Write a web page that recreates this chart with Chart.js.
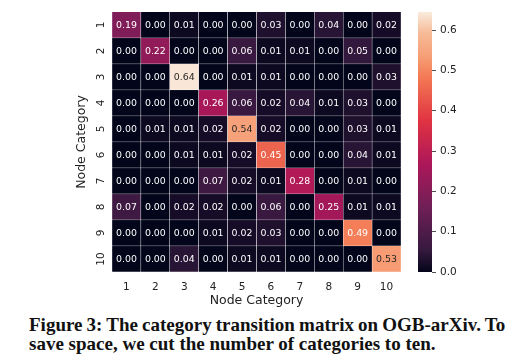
<!DOCTYPE html>
<html>
<head>
<meta charset="utf-8">
<script src="https://cdn.jsdelivr.net/npm/chart.js@4.4.1/dist/chart.umd.min.js"></script>
<style>
  body { margin: 0; background: #fff; width: 527px; height: 360px; position: relative; overflow: hidden; }
  #heat { position: absolute; left: 0; top: 0; }
  #bar { position: absolute; left: 400px; top: 0; }
  .cap { position: absolute; left: 29px; font-family: "Liberation Serif", serif; font-weight: bold;
         font-size: 19px; line-height: 20px; color: #111; white-space: nowrap; }
  #cap1 { top: 315px; width: 476px; text-align: justify; text-align-last: justify; }
  #cap2 { top: 334px; }
</style>
</head>
<body>
<canvas id="heat" width="527" height="310"></canvas>
<canvas id="bar" width="127" height="290"></canvas>
<div class="cap" id="cap1">Figure 3: The category transition matrix on OGB-arXiv. To</div>
<div class="cap" id="cap2">save space, we cut the number of categories to ten.</div>
<script>
// categories (same for rows and columns)
const colLabels = ['1', '2', '3', '4', '5', '6', '7', '8', '9', '10']
const rowLabels = ['1', '2', '3', '4', '5', '6', '7', '8', '9', '10']

// transition matrix, one row per source category
const row1 = [0.19, 0.00, 0.01, 0.00, 0.00, 0.03, 0.00, 0.04, 0.00, 0.02]
const row2 = [0.00, 0.22, 0.00, 0.00, 0.06, 0.01, 0.01, 0.00, 0.05, 0.00]
const row3 = [0.00, 0.00, 0.64, 0.00, 0.01, 0.01, 0.00, 0.00, 0.00, 0.03]
const row4 = [0.00, 0.00, 0.00, 0.26, 0.06, 0.02, 0.04, 0.01, 0.03, 0.00]
const row5 = [0.00, 0.01, 0.01, 0.02, 0.54, 0.02, 0.00, 0.00, 0.03, 0.01]
const row6 = [0.00, 0.00, 0.01, 0.01, 0.02, 0.45, 0.00, 0.00, 0.04, 0.01]
const row7 = [0.00, 0.00, 0.00, 0.07, 0.02, 0.01, 0.28, 0.00, 0.01, 0.00]
const row8 = [0.07, 0.00, 0.02, 0.02, 0.00, 0.06, 0.00, 0.25, 0.01, 0.01]
const row9 = [0.00, 0.00, 0.00, 0.01, 0.02, 0.03, 0.00, 0.00, 0.49, 0.00]
const row10 = [0.00, 0.00, 0.04, 0.00, 0.01, 0.01, 0.00, 0.00, 0.00, 0.53]
const rows = [row1, row2, row3, row4, row5, row6, row7, row8, row9, row10]

// colorbar
const vmin = 0
const vmax = 0.645
const barTicks = [0.0, 0.1, 0.2, 0.3, 0.4, 0.5, 0.6]

// seaborn "rocket" colormap, rough
const rocketStops = [
  [0, [3, 5, 26]], [0.083, [53, 25, 62]], [0.25, [112, 31, 87]], [0.417, [173, 23, 89]],
  [0.583, [225, 51, 66]], [0.75, [243, 122, 84]], [0.833, [246, 160, 120]], [0.917, [246, 186, 150]],
  [1, [250, 235, 221]]
]

function rocketRgb(t) {
  t = Math.max(0, Math.min(1, t))
  for (let i = 1; i < rocketStops.length; i++) {
    const [p1, c1] = rocketStops[i]
    const [p0, c0] = rocketStops[i - 1]
    if (t <= p1) {
      const f = (t - p0) / (p1 - p0)
      return c0.map((c, k) => c + (c1[k] - c) * f)
    }
  }
  return rocketStops[rocketStops.length - 1][1]
}
const rocket = t => 'rgb(' + rocketRgb(t).map(Math.round).join(',') + ')'
const norm = v => (v - vmin) / (vmax - vmin)

function textColor(v) {
  const lin = rocketRgb(norm(v)).map(c => {
    c /= 255
    return c <= 0.03928 ? c / 12.92 : Math.pow((c + 0.055) / 1.055, 2.4)
  })
  const lum = 0.2126 * lin[0] + 0.7152 * lin[1] + 0.0722 * lin[2]
  return lum > 0.38 ? '#262626' : '#ffffff'
}

const ink = '#222'
const sans = 'DejaVu Sans'

const cellText = {
  id: 'cellText',
  afterDatasetsDraw(chart) {
    const ctx = chart.ctx
    ctx.save()
    ctx.font = '9.4px "DejaVu Sans"'
    ctx.textAlign = 'center'
    ctx.textBaseline = 'middle'
    rows.forEach((row, r) => {
      chart.getDatasetMeta(r).data.forEach((cell, c) => {
        ctx.fillStyle = textColor(row[c])
        ctx.fillText(row[c].toFixed(2), cell.x, (cell.y + cell.base) / 2 + 0.5)
      })
    })
    ctx.restore()
  }
}

new Chart(document.getElementById('heat'), {
  type: 'bar',
  data: {
    labels: colLabels,
    datasets: rows.map((row, r) => ({
      label: rowLabels[r],
      data: row.map(() => 1),
      backgroundColor: row.map(v => rocket(norm(v))),
      borderColor: 'rgba(255,255,255,0.85)',
      borderWidth: 0.5,
      barPercentage: 1,
      categoryPercentage: 1,
      stack: 'm'
    }))
  },
  options: {
    responsive: false,
    animation: false,
    layout: { padding: { left: 68, right: 126, top: 12, bottom: 0 } },
    plugins: { legend: { display: false }, tooltip: { enabled: false } },
    scales: {
      x: {
        stacked: true,
        grid: { display: false },
        border: { display: false },
        ticks: { color: ink, font: { family: sans, size: 10.5 }, padding: 1, maxRotation: 0 },
        title: { display: true, text: 'Node Category', color: ink, font: { family: sans, size: 12.5 }, padding: { top: 0, bottom: 2 } },
        afterFit(s) { s.height = 38 }
      },
      y: {
        type: 'linear',
        stacked: true,
        min: 0,
        max: 10,
        reverse: true,
        grid: { display: false },
        border: { display: false },
        afterBuildTicks(s) { s.ticks = rowLabels.map((l, i) => ({ value: i + 0.5 })) },
        ticks: {
          callback: (v, i) => rowLabels[i],
          color: ink, font: { family: sans, size: 10.5 },
          minRotation: 90, maxRotation: 90, crossAlign: 'center', padding: -4
        },
        title: { display: true, text: 'Node Category', color: ink, font: { family: sans, size: 12.5 }, padding: { top: 6, bottom: 6 } },
        afterFit(s) { s.width = 44 }
      }
    }
  },
  plugins: [cellText]
})

new Chart(document.getElementById('bar'), {
  type: 'bar',
  data: {
    labels: ['scale'],
    datasets: [{
      data: [[vmin, vmax]],
      backgroundColor(c) {
        const area = c.chart.chartArea
        if (!area) return null
        const g = c.chart.ctx.createLinearGradient(0, area.bottom, 0, area.top)
        rocketStops.forEach(([p, col]) => g.addColorStop(p, 'rgb(' + col.join(',') + ')'))
        return g
      },
      borderWidth: 0,
      barPercentage: 1,
      categoryPercentage: 1
    }]
  },
  options: {
    responsive: false,
    animation: false,
    layout: { padding: { left: 18, right: 0, top: 12, bottom: 18 } },
    plugins: { legend: { display: false }, tooltip: { enabled: false } },
    scales: {
      x: { display: false },
      y: {
        position: 'right',
        min: vmin,
        max: vmax,
        afterBuildTicks(s) { s.ticks = barTicks.map(v => ({ value: v })) },
        ticks: { callback: v => v.toFixed(1), color: ink, font: { family: sans, size: 10.5 }, padding: 4 },
        grid: { display: true, drawOnChartArea: false, drawTicks: true, tickLength: 4, color: ink, lineWidth: 0.8 },
        border: { display: false },
        afterFit(s) { s.width = 95 }
      }
    }
  }
})

// squeeze the first caption line if it is wider than its box
const cap1 = document.getElementById('cap1')
if (cap1.scrollWidth > 476) {
  const spaces = cap1.textContent.split(' ').length - 1
  cap1.style.wordSpacing = (-(cap1.scrollWidth - 476) / spaces) + 'px'
}
</script>
</body>
</html>
